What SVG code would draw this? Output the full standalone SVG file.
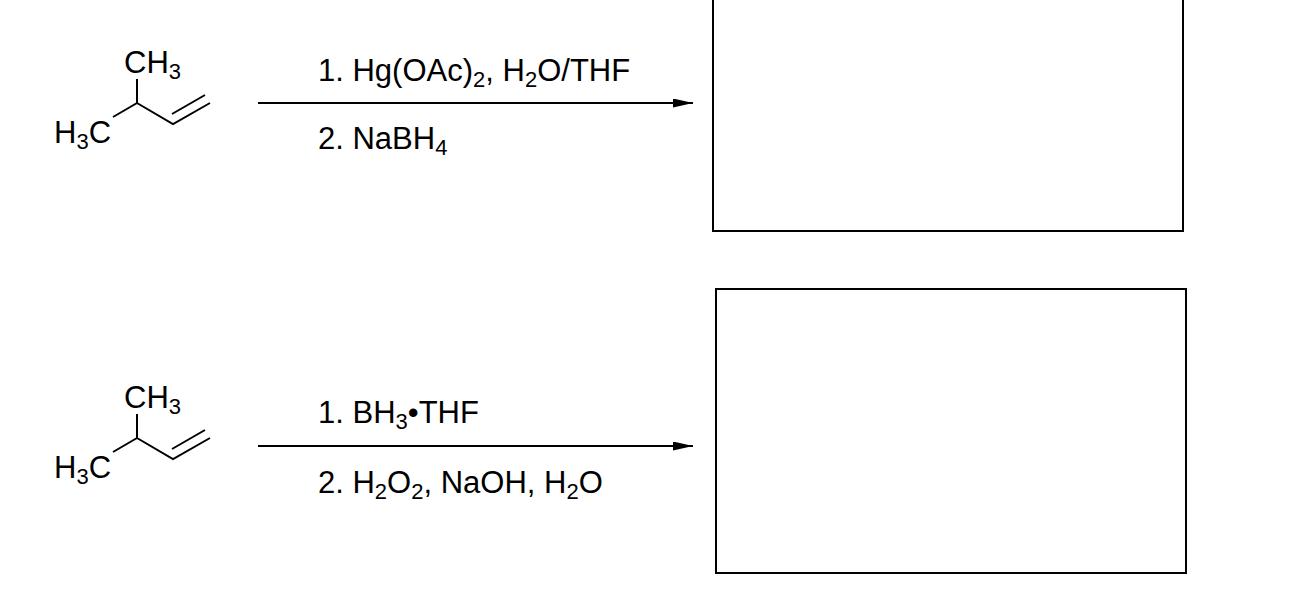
<svg xmlns="http://www.w3.org/2000/svg" width="1306" height="612" viewBox="0 0 1306 612">
<style>
text{font-family:"Liberation Sans",Arial,sans-serif;font-size:31px;fill:#000}
.s{font-size:22px}
.b{stroke:#000;stroke-width:2;fill:none}
.box{stroke:#000;stroke-width:2;fill:#fff}
</style>
<defs><marker id="ah" markerWidth="20" markerHeight="9" refX="20" refY="4.5" orient="auto" markerUnits="userSpaceOnUse"><path d="M0,0 L20,4.5 L0,9 Z" fill="#000"/></marker></defs>
<rect x="0" y="0" width="1306" height="612" fill="#fff"/>
<g id="mol1">
<text x="124" y="73">CH<tspan class="s" dy="6">3</tspan></text>
<text x="54" y="143">H<tspan class="s" dy="6">3</tspan><tspan dy="-6">C</tspan></text>
<path class="b" d="M137,79 L137,103 L113,117 M137,103 L173,124 L210,103 M172,114 L205,95"/>
</g>
<g id="mol2" transform="translate(0,335)">
<text x="124" y="73">CH<tspan class="s" dy="6">3</tspan></text>
<text x="54" y="143">H<tspan class="s" dy="6">3</tspan><tspan dy="-6">C</tspan></text>
<path class="b" d="M137,79 L137,103 L113,117 M137,103 L173,124 L210,103 M172,114 L205,95"/>
</g>
<g id="connectors">
<line class="b" x1="258" y1="103" x2="693" y2="103" marker-end="url(#ah)"/>
<line class="b" x1="258" y1="446" x2="693" y2="446" marker-end="url(#ah)"/>
</g>
<g id="labels">
<text x="318" y="81">1. Hg(OAc)<tspan class="s" dy="6">2</tspan><tspan dy="-6">, H</tspan><tspan class="s" dy="6">2</tspan><tspan dy="-6">O/THF</tspan></text>
<text x="318" y="149">2. NaBH<tspan class="s" dy="6">4</tspan></text>
<text x="318" y="423">1. BH<tspan class="s" dy="6">3</tspan><tspan dy="-6">•THF</tspan></text>
<text x="318" y="493">2. H<tspan class="s" dy="6">2</tspan><tspan dy="-6">O</tspan><tspan class="s" dy="6">2</tspan><tspan dy="-6">, NaOH, H</tspan><tspan class="s" dy="6">2</tspan><tspan dy="-6">O</tspan></text>
</g>
<g id="box1"><rect class="box" x="713" y="-2" width="470" height="233"/></g>
<g id="box2"><rect class="box" x="716" y="289" width="470" height="284"/></g>
</svg>
